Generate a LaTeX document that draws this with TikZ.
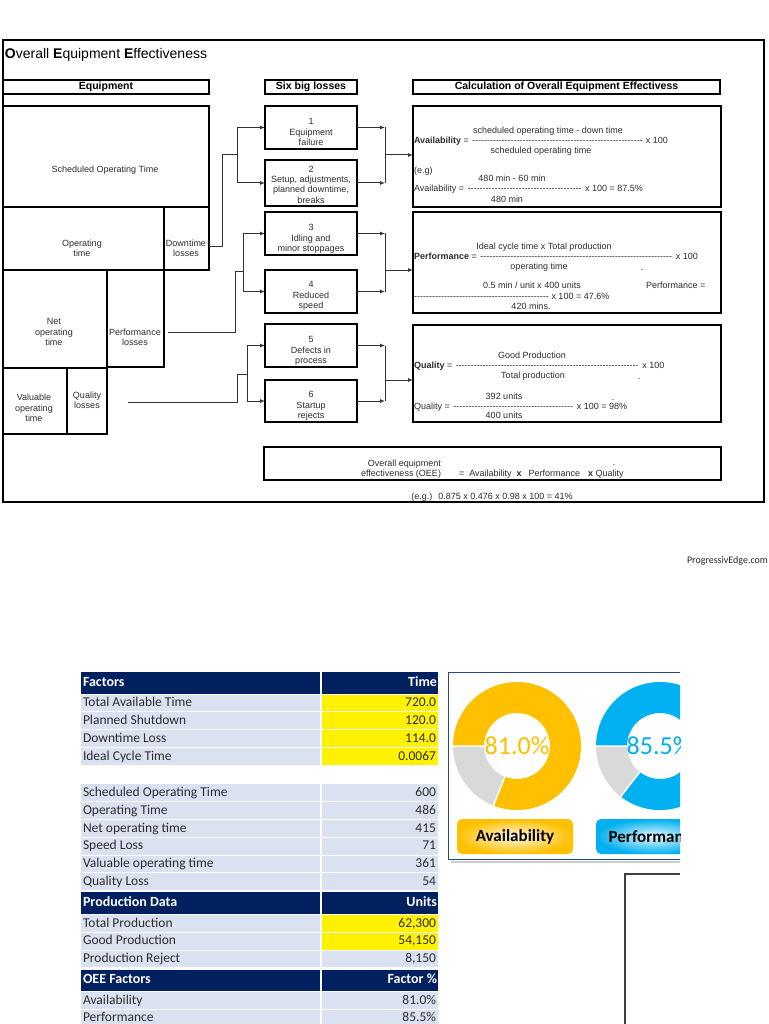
\documentclass[tikz,border=0pt]{standalone}
\usepackage{fontspec}
\setmainfont{Liberation Sans}
\newfontfamily\calfont{Carlito}
\usetikzlibrary{arrows.meta}
\definecolor{navy}{RGB}{0,32,96}
\definecolor{rowbg}{RGB}{218,226,242}
\definecolor{oeeyel}{RGB}{255,192,0}
\definecolor{oeecyan}{RGB}{0,176,240}
\definecolor{donutgray}{RGB}{217,217,217}
\definecolor{txt}{RGB}{45,45,45}
\definecolor{panelblue}{RGB}{40,70,130}
\newcommand\hyfill[1]{\hbox to #1pt{\cleaders\hbox{-}\hfill}}
\begin{document}
\begin{tikzpicture}[x=1pt,y=-1pt,
  every node/.style={inner sep=0pt, outer sep=0pt, text=txt},
  sm/.style={font=\fontsize{9}{10.3}\selectfont, align=center},
  ln/.style={font=\fontsize{9}{10.3}\selectfont, text height=6.6pt, text depth=1.9pt},
  hdr/.style={draw=black, line width=1.6pt, anchor=north west, minimum height=14pt,
    font=\fontsize{10.5}{12}\selectfont\bfseries, text=black},
  blk/.style={draw=black, line width=1.1pt, anchor=north west},
  lossbox/.style={draw=black, line width=1.8pt, anchor=north west, minimum width=92pt},
  calcbox/.style={draw=black, line width=1.8pt, anchor=north west, minimum width=308pt},
  conn/.style={draw=black!80, line width=1pt},
  arr/.style={conn, -{Latex[length=5pt,width=4pt]}},
  tbl/.style={font=\calfont\fontsize{13.5}{15}\selectfont, text height=9pt, text depth=2pt},
  tblh/.style={font=\calfont\bfseries\fontsize{14}{15}\selectfont, text height=9.5pt, text depth=2pt, text=white},
  pct/.style={font=\calfont\fontsize{26}{28}\selectfont},
  tag/.style={rounded corners=5pt, minimum width=116pt, minimum height=35pt,
    font=\calfont\bfseries\fontsize{17}{18}\selectfont, text=black}
]
\useasboundingbox (0,0) rectangle (768,1024);
\fill[white] (0,0) rectangle (768,1024);

% frame
\draw[black, line width=1.8pt] (3,40) rectangle (764,502);
\node[anchor=west, font=\fontsize{14}{16}\selectfont, text=black] (title) at (5,55)
  {\textbf{O}verall \textbf{E}quipment \textbf{E}ffectiveness};

% headers
\node[hdr, minimum width=206pt] (h1) at (3,80) {Equipment};
\node[hdr, minimum width=92pt] (h2) at (265,80) {Six big losses};
\node[hdr, minimum width=307pt] (h3) at (413,80) {Calculation of Overall Equipment Effectivess};

% equipment blocks
\node[blk, minimum width=206pt, minimum height=101pt] (sot) at (3,106) {};
\node[blk, minimum width=161pt, minimum height=63pt] (opt) at (3,207) {};
\node[blk, minimum width=45pt, minimum height=63pt] (dtl) at (164,207) {};
\node[blk, minimum width=104pt, minimum height=98pt] (net) at (3,270) {};
\node[blk, minimum width=57pt, minimum height=97pt] (pfl) at (107,270) {};
\node[blk, minimum width=64pt, minimum height=66pt] (vot) at (3,368) {};
\node[blk, minimum width=40pt, minimum height=66pt] (qll) at (67,368) {};
\node[sm] (sott) at (105,170) {Scheduled Operating Time};
\node[sm] (optt) at (82,248) {Operating\\time};
\node[sm] (dtlt) at (186,248) {Downtime\\losses};
\node[sm] (nett) at (54,332) {Net\\operating\\time};
\node[sm] (pflt) at (135,337) {Performance\\losses};
\node[sm] (vott) at (34,408) {Valuable\\operating\\time};
\node[sm] (qllt) at (87,400) {Quality\\losses};

% six big losses
\node[lossbox, minimum height=43pt] (b1) at (265,106) {};
\node[lossbox, minimum height=46pt] (b2) at (265,160) {};
\node[lossbox, minimum height=43pt] (b3) at (265,212) {};
\node[lossbox, minimum height=43pt] (b4) at (265,270) {};
\node[lossbox, minimum height=43pt] (b5) at (265,324) {};
\node[lossbox, minimum height=42pt] (b6) at (265,380) {};
\node[sm] (b1t) at (311,132) {1\\Equipment\\failure};
\node[sm] (b2t) at (311,184.5) {2\\Setup, adjustments,\\planned downtime,\\breaks};
\node[sm] (b3t) at (311,239) {3\\Idling and\\minor stoppages};
\node[sm] (b4t) at (311,296) {4\\Reduced\\speed};
\node[sm] (b5t) at (311,351) {5\\Defects in\\process};
\node[sm] (b6t) at (311,406) {6\\Startup\\rejects};

% calculation boxes
\node[calcbox, minimum height=101pt] (av) at (413,106) {};
\node[calcbox, minimum height=101pt] (pf) at (413,212) {};
\node[calcbox, minimum height=97pt] (ql) at (413,325) {};
\node[draw=black, line width=1.8pt, anchor=north west, minimum width=457pt, minimum height=33pt] (oee) at (264,447) {};

% availability text
\node[ln] (a1) at (548,131) {scheduled operating time - down time};
\node[ln,anchor=west] (a2) at (414,141) {\textbf{Availability} = \hyfill{172} x 100};
\node[ln] (a3) at (541,151) {scheduled operating time};
\node[ln,anchor=west] (a4) at (414,171) {(e.g)};
\node[ln] (a5) at (512,179) {480 min - 60 min};
\node[ln,anchor=west] (a6) at (414,189) {Availability = \hyfill{116} x 100 = 87.5\%};
\node[ln] (a7) at (507,200) {480 min};
% performance text
\node[ln] (p1) at (544,247) {Ideal cycle time x Total production};
\node[ln,anchor=west] (p2) at (414,257) {\textbf{Performance} = \hyfill{194} x 100};
\node[ln] (p3) at (539,267) {operating time};
\node[ln] (p3d) at (642,268) {.};
\node[ln] (p4) at (532,286) {0.5 min / unit x 400 units};
\node[ln,anchor=west] (p5) at (646,286) {Performance =};
\node[ln,anchor=west] (p6) at (414,297) {\hyfill{135} x 100 = 47.6\%};
\node[ln] (p7) at (531,307) {420 mins.};
% quality text
\node[ln] (q1) at (532,356) {Good Production};
\node[ln,anchor=west] (q2) at (414,366) {\textbf{Quality} = \hyfill{185} x 100};
\node[ln] (q3) at (533,376) {Total production};
\node[ln] (q3d) at (639,377) {.};
\node[ln] (q4) at (504,397) {392 units};
\node[ln] (q4d) at (613,398) {.};
\node[ln,anchor=west] (q5) at (414,407) {Quality = \hyfill{122} x 100 = 98\%};
\node[ln] (q6) at (504,416) {400 units};
% OEE text
\node[sm, align=right, anchor=east] (o1) at (441,469) {Overall equipment\\effectiveness (OEE)};
\node[ln, anchor=west] (o2) at (459,474) {=\hspace{5pt}Availability\hspace{5pt}\textbf{x}\hspace{7pt}Performance\hspace{8pt}\textbf{x} Quality};
\node[ln] (o3) at (614,463) {.};
\node[ln] (o4) at (492,497) {(e.g.)\hspace{6pt}0.875 x 0.476 x 0.98 x 100 = 41\%};

% connectors left
\coordinate (d1) at (222,246); \coordinate (d2) at (222,155); \coordinate (d3) at (237,155);
\draw[conn] (dtl.east |- d1) -- (d1) -- (d2) -- (d3);
\draw[conn] (d3 |- b1.west) -- (d3 |- b2.west);
\draw[arr] (d3 |- b1.west) -- (b1.west);
\draw[arr] (d3 |- b2.west) -- (b2.west);

\coordinate (e0) at (168,332); \coordinate (e1) at (235,332); \coordinate (e2) at (235,271); \coordinate (e3) at (243,271);
\draw[conn] (e0) -- (e1) -- (e2) -- (e3);
\draw[conn] (e3 |- b3.west) -- (e3 |- b4.west);
\draw[arr] (e3 |- b3.west) -- (b3.west);
\draw[arr] (e3 |- b4.west) -- (b4.west);

\coordinate (f0) at (128,402); \coordinate (f1) at (237,402); \coordinate (f2) at (237,374); \coordinate (f3) at (247,374);
\draw[conn] (f0) -- (f1) -- (f2) -- (f3);
\draw[conn] (f3 |- b5.west) -- (f3 |- b6.west);
\draw[arr] (f3 |- b5.west) -- (b5.west);
\draw[arr] (f3 |- b6.west) -- (b6.west);

% connectors right
\coordinate (r1) at (385,155); \coordinate (r2) at (385,270); \coordinate (r3) at (385,380);
\draw[arr] (b1.east) -- (b1.east -| r1);
\draw[arr] (b2.east) -- (b2.east -| r1);
\draw[conn] (b1.east -| r1) -- (b2.east -| r1);
\draw[arr] (r1) -- (r1 -| av.west);
\draw[arr] (b3.east) -- (b3.east -| r2);
\draw[arr] (b4.east) -- (b4.east -| r2);
\draw[conn] (b3.east -| r2) -- (b4.east -| r2);
\draw[arr] (r2) -- (r2 -| pf.west);
\draw[arr] (b5.east) -- (b5.east -| r3);
\draw[arr] (b6.east) -- (b6.east -| r3);
\draw[conn] (b5.east -| r3) -- (b6.east -| r3);
\draw[arr] (r3) -- (r3 -| ql.west);

% website
\node[anchor=west, font=\calfont\fontsize{10}{12}\selectfont, text=black!85] (web) at (687,561) {ProgressivEdge.com};

% table headers
\fill[navy] (81,672) rectangle (320,693.5);
\fill[navy] (322,672) rectangle (438,693.5);
\node[tblh, anchor=west] (th1) at (83,683) {Factors};
\node[tblh, anchor=east] (th1v) at (437,683) {Time};
\fill[navy] (81,892) rectangle (320,914);
\fill[navy] (322,892) rectangle (438,914);
\node[tblh, anchor=west] (th2) at (83,903) {Production Data};
\node[tblh, anchor=east] (th2v) at (437,903) {Units};
\fill[navy] (81,969.5) rectangle (320,991);
\fill[navy] (322,969.5) rectangle (438,991);
\node[tblh, anchor=west] (th3) at (83,980) {OEE Factors};
\node[tblh, anchor=east] (th3v) at (437,980) {Factor \%};

\foreach \yt/\lab/\val/\vc [count=\i] in {
  694.5/Total Available Time/720.0/yellow,
  712.3/Planned Shutdown/120.0/yellow,
  730.1/Downtime Loss/114.0/yellow,
  747.9/Ideal Cycle Time/0.0067/yellow,
  784.3/Scheduled Operating Time/600/rowbg,
  802.1/Operating Time/486/rowbg,
  819.9/Net operating time/415/rowbg,
  837.7/Speed Loss/71/rowbg,
  855.5/Valuable operating time/361/rowbg,
  873.3/Quality Loss/54/rowbg,
  915/Total Production/{62,300}/yellow,
  932.8/Good Production/{54,150}/yellow,
  950.6/Production Reject/{8,150}/rowbg,
  992/Availability/81.0\%/rowbg,
  1009.8/Performance/85.5\%/rowbg}{
  \fill[rowbg] (81,\yt) rectangle (320,\yt+16.8);
  \fill[\vc] (322,\yt) rectangle (438,\yt+16.8);
  \node[tbl, anchor=west] (tl\i) at (83,\yt+8.6) {\lab};
  \node[tbl, anchor=east] (tv\i) at (436,\yt+8.6) {\val};
}

% chart panel
\begin{scope}
\clip (440,660) rectangle (680,1024);
\draw[black!20, line width=2.5pt] (451,862) -- (700,862);
\draw[panelblue, line width=1pt] (448,672) rectangle (700,859);
\begin{scope}[shift={(517,746)}]
  \fill[oeeyel] (248.4:64pt) arc[start angle=248.4, end angle=540, radius=64pt]
     -- (180:33pt) arc[start angle=180, end angle=-111.6, radius=33pt] -- cycle;
  \fill[donutgray] (180:64pt) arc[start angle=180, end angle=248.4, radius=64pt]
     -- (248.4:33pt) arc[start angle=248.4, end angle=180, radius=33pt] -- cycle;
  \draw[white, line width=1.5pt] (180:32pt) -- (180:65pt) (248.4:32pt) -- (248.4:65pt);
\end{scope}
\node[pct, text=oeeyel] (v1) at (517,746) {81.0\%};
\begin{scope}[shift={(660,746)}]
  \fill[oeecyan] (232.2:64pt) arc[start angle=232.2, end angle=540, radius=64pt]
     -- (180:33pt) arc[start angle=180, end angle=-127.8, radius=33pt] -- cycle;
  \fill[donutgray] (180:64pt) arc[start angle=180, end angle=232.2, radius=64pt]
     -- (232.2:33pt) arc[start angle=232.2, end angle=180, radius=33pt] -- cycle;
  \draw[white, line width=1.5pt] (180:32pt) -- (180:65pt) (232.2:32pt) -- (232.2:65pt);
\end{scope}
\node[pct, text=oeecyan] (v2) at (659,746) {85.5\%};
\node[tag, inner color=oeeyel!12, outer color=oeeyel] (l1) at (515,836.5) {Availability};
\node[tag, inner color=oeecyan!8, outer color=oeecyan] (l2) at (654,836.5) {Performance};
\end{scope}

\draw[black!75, line width=1.3pt] (680,874) -- (625,874) -- (625,1024);
\end{tikzpicture}
\end{document}
